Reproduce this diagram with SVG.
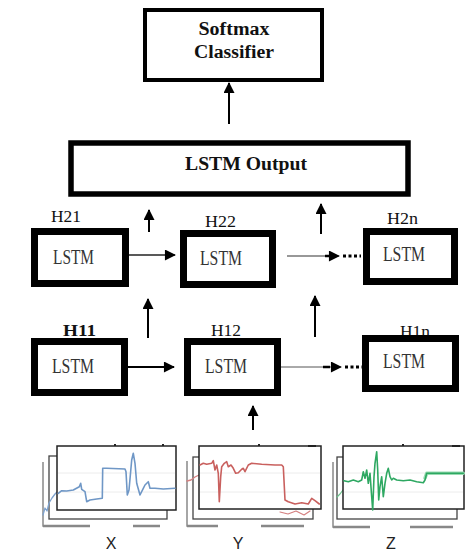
<svg xmlns="http://www.w3.org/2000/svg" width="474" height="558" viewBox="0 0 474 558">
<style>
.box{fill:#fff;stroke:#000}
.bt{font-family:"Liberation Serif","Times New Roman",serif;font-weight:bold;fill:#111}
.cell{font-family:"Liberation Serif","Times New Roman",serif;font-size:20px;fill:#333}
.hl{font-family:"Liberation Serif","Times New Roman",serif;font-size:16px;fill:#111}
.ax{font-family:"Liberation Sans",Arial,sans-serif;font-size:16px;fill:#222;text-anchor:middle}
.up{stroke:#000;stroke-width:2;fill:none}
.dots{stroke:#000;stroke-width:3;stroke-dasharray:3 2.5;fill:none}
.fr{fill:#fff;stroke:#222;stroke-width:1.5}
.mid{fill:#fff;stroke:#444;stroke-width:1.3}
.back{fill:none;stroke:#777;stroke-width:1.3}
.grid{stroke:#ececec;stroke-width:1}
.sig{fill:none;stroke-linejoin:round;stroke-linecap:round}
</style>
<defs>
<marker id="ah" viewBox="0 0 12 12" refX="11" refY="6" markerWidth="12" markerHeight="11" markerUnits="userSpaceOnUse" orient="auto">
<path d="M0,0 L12,6 L0,12 z" fill="#000"/>
</marker>
</defs>

<g id="softmax">
<rect class="box" x="145" y="10" width="177" height="70" stroke-width="4"/>
<text class="bt" font-size="18" x="234" y="35" text-anchor="middle" textLength="71" lengthAdjust="spacingAndGlyphs">Softmax</text>
<text class="bt" font-size="18" x="234" y="58" text-anchor="middle" textLength="80" lengthAdjust="spacingAndGlyphs">Classifier</text>
</g>

<g id="lstm-output">
<rect class="box" x="71" y="143" width="337" height="51" stroke-width="5.5"/>
<text class="bt" font-size="19" x="185" y="170" textLength="122" lengthAdjust="spacingAndGlyphs">LSTM Output</text>
</g>

<g id="h21">
<text class="hl" x="51" y="222" textLength="30" lengthAdjust="spacingAndGlyphs">H21</text>
<rect class="box" x="34.5" y="231.5" width="91" height="52" stroke-width="7"/>
<text class="cell" x="53" y="264" textLength="41" lengthAdjust="spacingAndGlyphs">LSTM</text>
</g>
<g id="h22">
<text class="hl" x="205" y="227" textLength="31" lengthAdjust="spacingAndGlyphs">H22</text>
<rect class="box" x="183.5" y="233.5" width="89" height="51" stroke-width="7"/>
<text class="cell" x="200" y="265" textLength="42" lengthAdjust="spacingAndGlyphs">LSTM</text>
</g>
<g id="h2n">
<text class="hl" x="387" y="224" textLength="31" lengthAdjust="spacingAndGlyphs">H2n</text>
<rect class="box" x="366.5" y="231.5" width="88" height="50" stroke-width="7"/>
<text class="cell" x="383" y="261" textLength="42" lengthAdjust="spacingAndGlyphs">LSTM</text>
</g>
<g id="h11">
<text class="hl" x="63" y="336" font-weight="bold" textLength="33" lengthAdjust="spacingAndGlyphs">H11</text>
<rect class="box" x="34.5" y="341.5" width="90" height="51" stroke-width="7"/>
<text class="cell" x="52" y="373" textLength="42" lengthAdjust="spacingAndGlyphs">LSTM</text>
</g>
<g id="h12">
<text class="hl" x="211" y="336" textLength="30" lengthAdjust="spacingAndGlyphs">H12</text>
<rect class="box" x="187.5" y="341.5" width="90" height="51" stroke-width="7"/>
<text class="cell" x="205" y="373" textLength="42" lengthAdjust="spacingAndGlyphs">LSTM</text>
</g>
<g id="h1n">
<text class="hl" x="400" y="337" textLength="30" lengthAdjust="spacingAndGlyphs">H1n</text>
<rect class="box" x="365.5" y="338.5" width="90" height="50" stroke-width="7"/>
<text class="cell" x="383" y="368" textLength="42" lengthAdjust="spacingAndGlyphs">LSTM</text>
</g>

<g id="connectors">
<line class="up" x1="229" y1="124" x2="229" y2="83" marker-end="url(#ah)"/>
<line class="up" x1="149" y1="232" x2="149" y2="210" marker-end="url(#ah)"/>
<line class="up" x1="321" y1="234" x2="321" y2="204" marker-end="url(#ah)"/>
<line class="up" x1="148" y1="338" x2="148" y2="299" marker-end="url(#ah)"/>
<line class="up" x1="315" y1="337" x2="315" y2="296" marker-end="url(#ah)"/>
<line class="up" x1="253" y1="430" x2="253" y2="406" marker-end="url(#ah)"/>
<line x1="129" y1="255" x2="175" y2="255" stroke="#222" stroke-width="1.5" marker-end="url(#ah)"/>
<line x1="128" y1="367" x2="174" y2="367" stroke="#000" stroke-width="2" marker-end="url(#ah)"/>
<line x1="287" y1="256" x2="339" y2="256" stroke="#333" stroke-width="1.2" marker-end="url(#ah)"/>
<line x1="325" y1="256" x2="330" y2="256" stroke="#000" stroke-width="2.5"/>
<line class="dots" x1="343" y1="256" x2="361" y2="256"/>
<line x1="281" y1="367" x2="341" y2="367" stroke="#555" stroke-width="1" marker-end="url(#ah)"/>
<line x1="323" y1="367" x2="330" y2="367" stroke="#000" stroke-width="2.5"/>
<line class="dots" x1="345" y1="367" x2="362" y2="367"/>
</g>

<g id="chart-x">
<path class="back" d="M43,462 V526 H90 M133,526 H160"/>
<path d="M43,526 H90 M133,526 H160" stroke="#888" stroke-width="2.5" fill="none"/>
<rect class="mid" x="49" y="456" width="118" height="63"/>
<path class="sig" stroke="#7fa3cf" stroke-width="1.3" d="M43,515 L45,508 L47,511 L49,503 L52,498 L55,494 L57,492"/>
<rect class="fr" x="57" y="446" width="119" height="64"/>
<line class="grid" x1="58" y1="473" x2="175" y2="473"/>
<line class="grid" x1="58" y1="492" x2="175" y2="492"/>
<path d="M115,446 v-2 M163,446 v-2" stroke="#222" stroke-width="2"/>
<path class="sig" stroke="#6f97c6" stroke-width="1.6" d="M58.3,493.3 L61.7,490.7 L66.7,491 L73.3,490 L79.3,486.7 L80.7,483.3 L81.7,489.3 L85,491.7 L86.7,501.7 L90,500 L96.7,499 L102.3,498.3 L102.7,468.3 L106.7,468.3 L125,469 L126,471.7 L127.3,495 L129,490 L131.7,460 L133.3,453.3 L135,463.3 L136.7,483.3 L140,495 L143.3,488.3 L145,485 L148.3,481.7 L150,488.3 L155,488.3 L163.3,489 L175,488.3"/>
<text class="ax" x="111" y="549">X</text>
</g>

<g id="chart-y">
<path class="back" d="M187,461 V526 H218 M261,526 H304"/>
<path d="M187,526 H218 M261,526 H304" stroke="#888" stroke-width="2.5" fill="none"/>
<rect class="mid" x="193" y="457" width="120" height="62"/>
<path class="sig" stroke="#d58080" stroke-width="1.3" d="M187,481 L191,480 L195,477 L199,475"/>
<path class="sig" stroke="#d58080" stroke-width="1.2" d="M280,512 L288,514 L296,511 L304,515 L310,511"/>
<rect class="fr" x="199" y="446" width="122" height="63"/>
<line class="grid" x1="200" y1="473" x2="320" y2="473"/>
<line class="grid" x1="200" y1="492" x2="320" y2="492"/>
<path d="M259,446 v-2 M308,446 h8" stroke="#222" stroke-width="2"/>
<path class="sig" stroke="#c9605e" stroke-width="1.6" d="M200,465 L203.3,463.3 L206.7,464.3 L211.7,463.3 L213.3,460.7 L215,470 L216.7,465 L218.3,473.3 L219.3,501.7 L220.7,476.7 L221.7,466.7 L224.3,463.3 L226.7,461.7 L228.3,466.7 L231,465 L233.3,468.3 L235.7,473.3 L238.3,472.7 L241.7,469.3 L243.3,468.3 L245,471.7 L248.3,465 L251.7,463.3 L261.7,464.3 L275,465 L281.7,465 L283.3,466.7 L285,500 L288.3,501.7 L295,504 L301.7,502.7 L308.3,504 L311.7,498.3 L315,500.7 L319.3,504"/>
<text class="ax" x="238" y="549">Y</text>
</g>

<g id="chart-z">
<path class="back" d="M333,462 V527 H370 M410,527 H453"/>
<path d="M333,527 H370 M410,527 H453" stroke="#888" stroke-width="2.5" fill="none"/>
<rect class="mid" x="337" y="457" width="120" height="62"/>
<path class="sig" stroke="#6cc08c" stroke-width="1.2" d="M337,497 L340,494 L343,490"/>
<rect class="fr" x="343" y="446" width="121" height="63"/>
<line class="grid" x1="344" y1="473" x2="463" y2="473"/>
<line class="grid" x1="344" y1="492" x2="463" y2="492"/>
<path d="M403,446 v-2 M452,446 h8" stroke="#222" stroke-width="2"/>
<path class="sig" stroke="#9adbb2" stroke-width="3.5" d="M425,478 L426.7,473.3 L463.3,473.3"/>
<path class="sig" stroke="#2ea862" stroke-width="1.6" d="M344,480.7 L348.3,481.7 L353.3,480 L358.3,481.7 L361.7,480 L363.3,471.7 L365,478.3 L366.7,470 L368.3,483.3 L370,473.3 L371.7,496.7 L372.7,510 L374,476.7 L375,463.3 L376.7,451.7 L377.7,470 L378.7,500 L380,486.7 L381.7,476.7 L383.3,496.7 L385,483.3 L386.7,473.3 L388.3,468.3 L390,476.7 L391.7,480 L393.3,478.3 L396.7,480 L403.3,480.7 L410,480 L416.7,481.7 L423.3,482.7 L425,480 L426.7,473.3 L433.3,473.3 L446.7,473.3 L463.3,473.3"/>
<text class="ax" x="391" y="549">Z</text>
</g>
</svg>
